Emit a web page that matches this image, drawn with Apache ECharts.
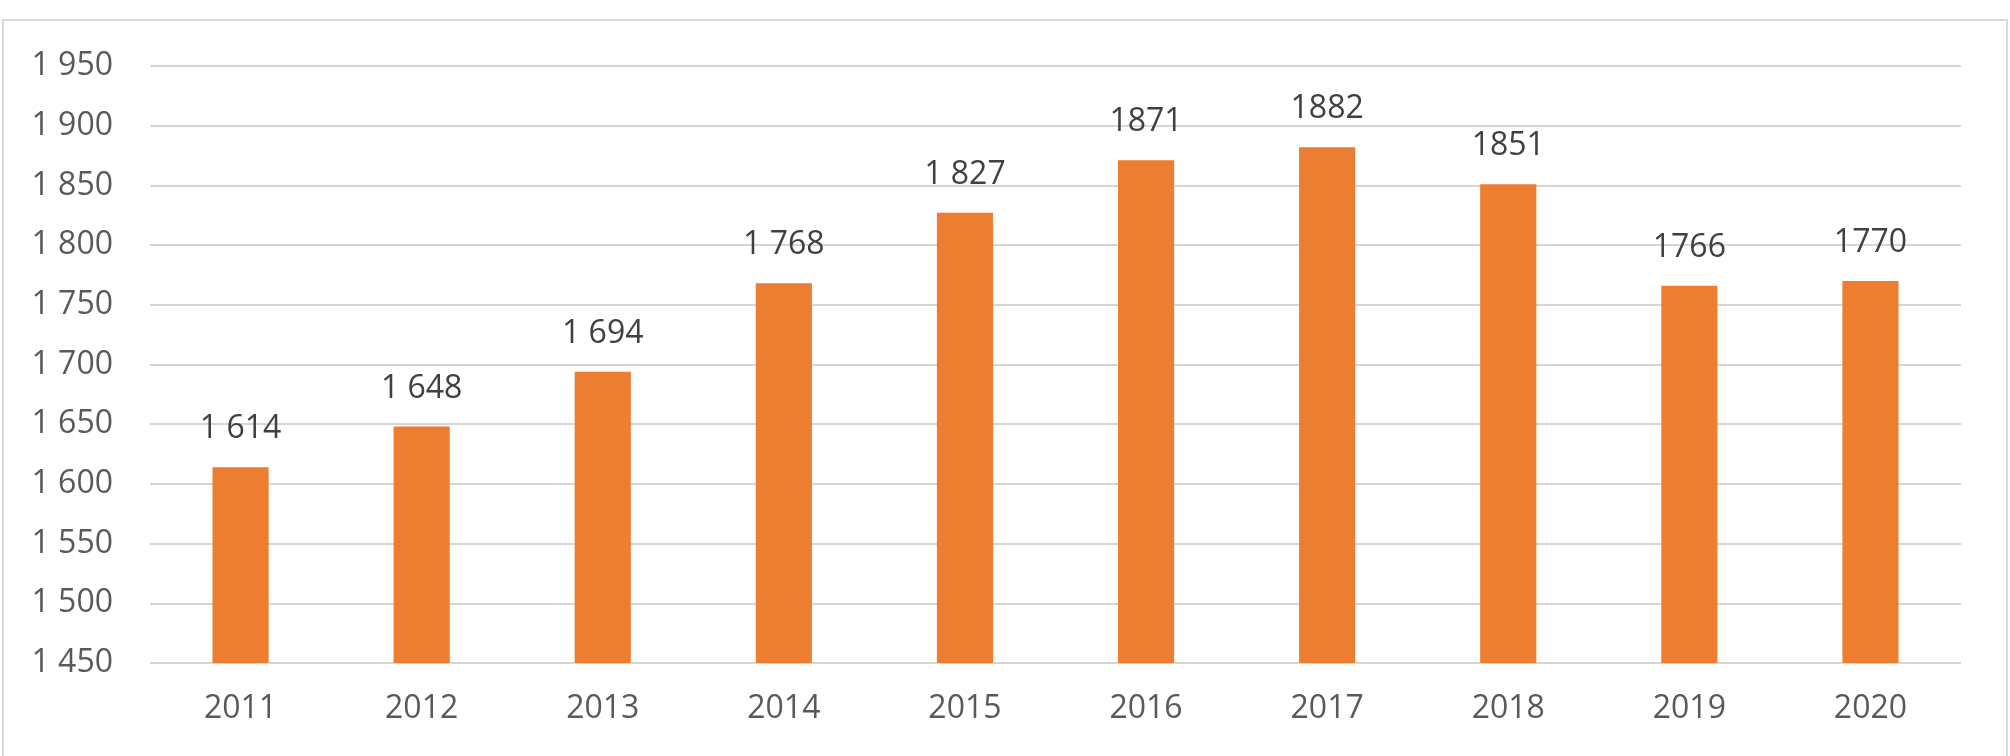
<!DOCTYPE html>
<html>
<head>
<meta charset="utf-8">
<style>
    html,body{margin:0;padding:0;background:#fff;}
    #main{width:2010px;height:756px;}
</style>
</head>
<body>
<div id="main"></div>
<script src="https://cdn.jsdelivr.net/npm/echarts@6/dist/echarts.min.js"></script>
<script>
    var years = ['2011', '2012', '2013', '2014', '2015', '2016', '2017', '2018', '2019', '2020'];
    var values = [1614, 1648, 1694, 1768, 1827, 1871, 1882, 1851, 1766, 1770];
    // labels as printed on the chart (some with a space, some without)
    var valueLabels = ['1 614', '1 648', '1 694', '1 768', '1 827', '1871', '1882', '1851', '1766', '1770'];
    var yMin = 1450, yMax = 1950, yStep = 50;

    var myChart = echarts.init(document.getElementById('main'));
    var option = {
        animation: false,
        textStyle: {fontFamily: 'Open Sans'},
        graphic: [{
            type: 'rect',
            shape: {x: 3, y: 20, width: 2004, height: 800},
            style: {fill: 'none', stroke: '#d9d9d9', lineWidth: 2},
            silent: true
        }],
        grid: {left: 150, right: 49, top: 66, bottom: 93},
        xAxis: {
            type: 'category',
            data: years,
            axisLine: {show: false},
            axisTick: {show: false},
            axisLabel: {color: '#595959', fontSize: 32, margin: 30}
        },
        yAxis: {
            type: 'value',
            min: yMin,
            max: yMax,
            interval: yStep,
            axisLine: {show: false},
            axisTick: {show: false},
            splitLine: {lineStyle: {color: '#d6d6d6', width: 2}},
            axisLabel: {
                color: '#595959',
                fontSize: 32,
                margin: 37,
                formatter: function (v) {
                    return String(v).replace(/\B(?=(\d{3})+(?!\d))/g, ' ');
                }
            }
        },
        series: [{
            type: 'bar',
            data: values,
            barWidth: '31%',
            itemStyle: {color: '#ed7d31'},
            label: {
                show: true,
                position: 'top',
                distance: 22,
                color: '#404040',
                fontSize: 32,
                formatter: function (p) {
                    return valueLabels[p.dataIndex];
                }
            }
        }]
    };
    myChart.setOption(option);
</script>
</body>
</html>
